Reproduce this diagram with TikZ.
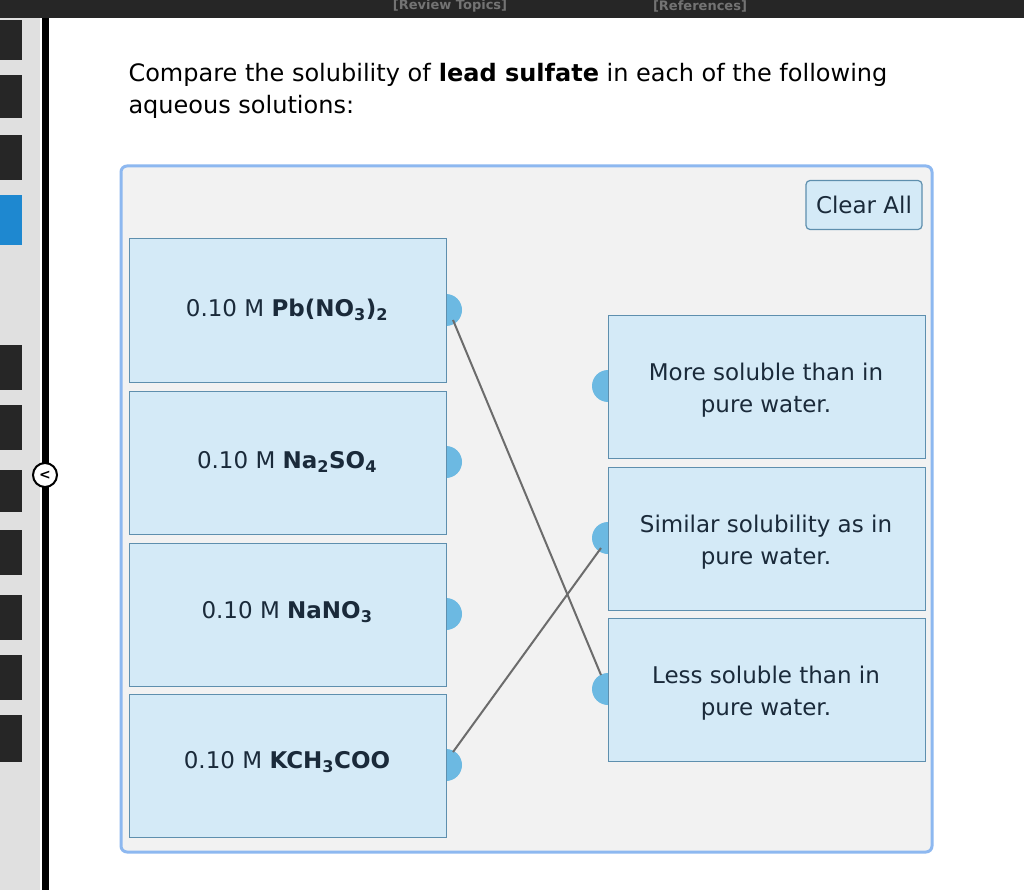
\documentclass[tikz,border=0pt]{standalone}
\usepackage{fontspec}
\setmainfont{DejaVu Sans}
\definecolor{boxfill}{HTML}{D4EAF7}
\definecolor{boxline}{HTML}{5E8FAE}
\definecolor{dotc}{HTML}{6CB9E2}
\definecolor{panelb}{HTML}{8DB8F0}
\definecolor{txt}{HTML}{1A2A3A}
\definecolor{sideblue}{HTML}{1E88D0}
\begin{document}
\begin{tikzpicture}[x=1pt,y=-1pt,
  optbox/.style={draw=boxline,fill=boxfill,line width=1pt},
  dot/.style={fill=dotc},
  lab/.style={font=\fontsize{23}{32}\selectfont,text=txt,align=center},
  link/.style={draw=gray!85!black,line width=2pt}]
\useasboundingbox (0,0) rectangle (1024,890);
\fill[white] (0,0) rectangle (1024,890);
\fill[black!85] (0,0) rectangle (1024,18);
\node[text=black!55,font=\bfseries\fontsize{13}{13}\selectfont] (rt) at (450,6) {[Review Topics]};
\node[text=black!55,font=\bfseries\fontsize{13}{13}\selectfont] (rf) at (700,6) {[References]};
\fill[black!12] (0,18) rectangle (40,890);
\foreach \a/\b in {20/60,75/118,135/180,345/390,405/450,470/512,530/575,595/640,655/700,715/762}
  \fill[black!85] (0,\a) rectangle (22,\b);
\fill[sideblue] (0,195) rectangle (22,245);
\fill[black] (42,18) rectangle (49,890);
\node[circle,draw=black,fill=white,line width=2pt,minimum size=24pt,inner sep=0pt,font=\bfseries\fontsize{14}{14}\selectfont] (back) at (45,475) {<};
\node[anchor=west,font=\fontsize{24}{32}\selectfont,align=left] (title) at (125,91) {Compare the solubility of \textbf{lead sulfate} in each of the following\\aqueous solutions:};
\draw[panelb,line width=3pt,fill=black!5,rounded corners=6pt] (121,166) rectangle (932,852);
\node[draw=boxline,fill=boxfill,line width=1.2pt,rounded corners=4pt,minimum width=116pt,minimum height=49pt,lab] (clr) at (864,205) {Clear All};
\foreach \y/\n in {239/a,391/b,543/c,694/d}{
  \fill[dot] (446,\y+71) circle (16);
  \draw[optbox] (129,\y) rectangle (446,\y+143);
  \coordinate (\n) at (453,\y+71);}
\foreach \y/\n in {315/p,467/q,618/r}{
  \fill[dot] (608,\y+71) circle (16);
  \draw[optbox] (608,\y) rectangle (925,\y+143);
  \coordinate (\n) at (601,\y+71);}
\node[lab] (la) at (287,310) {0.10 M \textbf{Pb(NO\textsubscript{3})\textsubscript{2}}};
\node[lab] (lb) at (287,462) {0.10 M \textbf{Na\textsubscript{2}SO\textsubscript{4}}};
\node[lab] (lc) at (287,612) {0.10 M \textbf{NaNO\textsubscript{3}}};
\node[lab] (ld) at (287,762) {0.10 M \textbf{KCH\textsubscript{3}COO}};
\node[lab] (lp) at (766,390) {More soluble than in\\pure water.};
\node[lab] (lq) at (766,542) {Similar solubility as in\\pure water.};
\node[lab] (lr) at (766,693) {Less soluble than in\\pure water.};
\draw[link] (453,320) -- (601,675);
\draw[link] (453,752) -- (601,548);
\end{tikzpicture}
\end{document}
